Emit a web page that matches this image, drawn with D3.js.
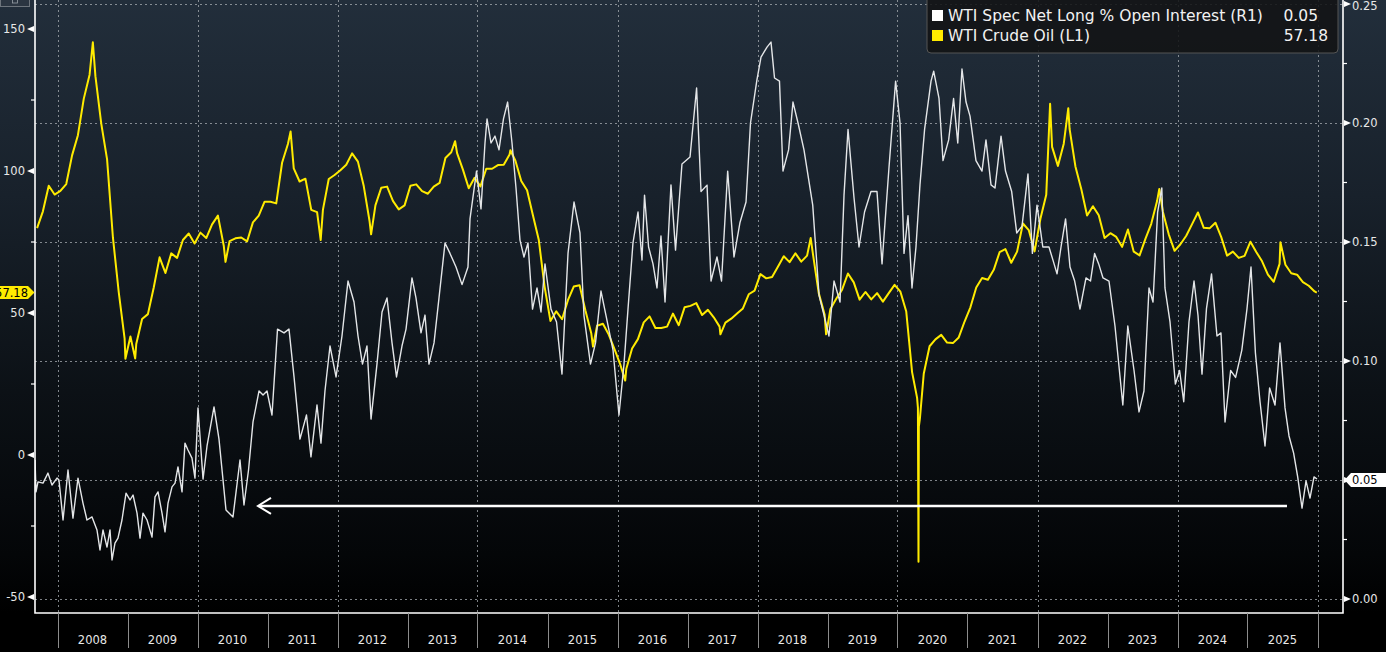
<!DOCTYPE html>
<html><head><meta charset="utf-8">
<script src="https://cdn.jsdelivr.net/npm/d3@7"></script>
<style>html,body{margin:0;padding:0;background:#000;overflow:hidden}svg{display:block}</style>
</head><body><svg id="c" width="1386" height="652"></svg>
<script>
// ---------- DATA ----------
const yearLabels = ["2008","2009","2010","2011","2012","2013","2014","2015","2016","2017","2018","2019","2020","2021","2022","2023","2024","2025"];
const leftTicks = [-50, 0, 50, 100, 150];
const leftMinorTicks = [-25, 25, 75, 125];
const rightTicks = [0, 0.05, 0.10, 0.15, 0.20, 0.25];
const rightMinorTicks = [0.025, 0.075, 0.125, 0.175, 0.225];
const legendNames = ["WTI Spec Net Long % Open Interest (R1)", "WTI Crude Oil (L1)"];
const legendValues = ["0.05", "57.18"];
const lastOil = 57.18;
const lastSpec = 0.05;

// WTI Spec Net Long % Open Interest (right axis), decimal-year dates
const specTimes = [2007.679,2007.693,2007.721,2007.793,2007.864,2007.921,2007.993,2008.021,2008.079,2008.15,2008.221,2008.293,2008.364,2008.421,2008.493,2008.564,2008.607,2008.65,2008.707,2008.75,2008.779,2008.821,2008.864,2008.921,2008.979,2009.036,2009.079,2009.136,2009.179,2009.221,2009.279,2009.35,2009.393,2009.436,2009.493,2009.536,2009.579,2009.636,2009.679,2009.721,2009.779,2009.821,2009.864,2009.921,2009.964,2010.007,2010.079,2010.136,2010.236,2010.307,2010.407,2010.507,2010.607,2010.664,2010.729,2010.793,2010.879,2010.936,2010.993,2011.064,2011.143,2011.236,2011.307,2011.379,2011.464,2011.557,2011.621,2011.707,2011.764,2011.821,2011.893,2011.979,2012.064,2012.15,2012.236,2012.293,2012.357,2012.421,2012.479,2012.564,2012.636,2012.707,2012.779,2012.843,2012.921,2012.979,2013.064,2013.121,2013.193,2013.25,2013.307,2013.379,2013.45,2013.536,2013.607,2013.693,2013.779,2013.864,2013.893,2013.986,2014.05,2014.107,2014.136,2014.193,2014.25,2014.307,2014.371,2014.43,2014.493,2014.55,2014.607,2014.664,2014.721,2014.786,2014.85,2014.907,2014.964,2015.05,2015.129,2015.207,2015.293,2015.379,2015.464,2015.521,2015.614,2015.686,2015.764,2015.836,2015.936,2016.021,2016.093,2016.15,2016.221,2016.293,2016.35,2016.386,2016.444,2016.507,2016.564,2016.621,2016.679,2016.764,2016.829,2016.921,2017.036,2017.13,2017.193,2017.279,2017.336,2017.421,2017.486,2017.574,2017.664,2017.75,2017.836,2017.9,2017.989,2018.05,2018.136,2018.193,2018.243,2018.314,2018.364,2018.444,2018.507,2018.579,2018.664,2018.789,2018.879,2018.964,2019.021,2019.093,2019.179,2019.236,2019.293,2019.379,2019.45,2019.529,2019.621,2019.707,2019.779,2019.879,2019.973,2020.036,2020.093,2020.15,2020.207,2020.264,2020.321,2020.387,2020.479,2020.517,2020.593,2020.65,2020.731,2020.801,2020.861,2020.921,2020.979,2021.036,2021.121,2021.207,2021.264,2021.336,2021.393,2021.479,2021.543,2021.631,2021.703,2021.779,2021.864,2021.927,2021.993,2022.076,2022.164,2022.221,2022.279,2022.336,2022.401,2022.464,2022.531,2022.607,2022.693,2022.757,2022.816,2022.874,2022.936,2023.021,2023.107,2023.219,2023.29,2023.379,2023.45,2023.521,2023.593,2023.65,2023.716,2023.776,2023.821,2023.893,2023.97,2024.03,2024.089,2024.164,2024.236,2024.293,2024.35,2024.414,2024.486,2024.564,2024.621,2024.679,2024.759,2024.83,2024.919,2024.993,2025.05,2025.113,2025.179,2025.25,2025.316,2025.393,2025.464,2025.536,2025.593,2025.659,2025.717,2025.779,2025.836,2025.893,2025.95,2025.993];
const specValues = [0.0584,0.045,0.0492,0.0487,0.0529,0.0479,0.0508,0.05,0.0332,0.0542,0.034,0.0508,0.0403,0.0332,0.0345,0.029,0.0206,0.029,0.0218,0.029,0.0164,0.0235,0.0256,0.0332,0.0445,0.0416,0.0437,0.0361,0.0256,0.0361,0.0332,0.026,0.0429,0.045,0.0361,0.0282,0.0403,0.0471,0.0487,0.0555,0.045,0.0655,0.0626,0.0592,0.0508,0.0803,0.0504,0.0643,0.0807,0.0672,0.0374,0.0345,0.0584,0.0395,0.0542,0.0744,0.0874,0.0857,0.0874,0.0773,0.1134,0.1118,0.1134,0.0933,0.0672,0.0773,0.0597,0.0815,0.0655,0.0874,0.1063,0.0933,0.1105,0.1336,0.1248,0.1105,0.0987,0.1063,0.0756,0.0987,0.1206,0.1265,0.1076,0.0933,0.1063,0.1134,0.1349,0.1265,0.1118,0.1193,0.0987,0.1076,0.1265,0.1496,0.1452,0.1395,0.1321,0.1395,0.1597,0.1798,0.1639,0.1916,0.2017,0.1916,0.1945,0.1887,0.2017,0.2088,0.1916,0.1727,0.1508,0.1437,0.1496,0.1218,0.1307,0.1206,0.1408,0.1218,0.1164,0.0945,0.1452,0.1668,0.1538,0.1191,0.0987,0.1076,0.1294,0.1191,0.1046,0.0773,0.0987,0.1218,0.1496,0.1626,0.1424,0.1697,0.1479,0.1408,0.1307,0.1525,0.1248,0.174,0.1466,0.1828,0.1857,0.2147,0.1712,0.1739,0.1336,0.1437,0.1336,0.1798,0.1437,0.1582,0.1668,0.2,0.2176,0.2277,0.2319,0.234,0.2189,0.2176,0.1798,0.1887,0.2088,0.2,0.1887,0.1655,0.1277,0.1176,0.1105,0.1336,0.1248,0.1697,0.1973,0.1685,0.1479,0.1626,0.1712,0.1712,0.1408,0.1815,0.2176,0.2,0.1452,0.1611,0.1307,0.1479,0.174,0.1973,0.2176,0.2218,0.2103,0.1842,0.1929,0.2103,0.1916,0.2227,0.2088,0.2029,0.1842,0.1798,0.1929,0.174,0.1727,0.1945,0.1798,0.1712,0.1538,0.1567,0.1786,0.1452,0.1655,0.1479,0.1479,0.1424,0.1366,0.1479,0.1597,0.1395,0.1336,0.1218,0.1349,0.1336,0.1452,0.1408,0.1349,0.1336,0.1147,0.0815,0.1147,0.096,0.0786,0.0874,0.1307,0.1248,0.1626,0.1727,0.1307,0.1164,0.0903,0.096,0.0829,0.1164,0.1336,0.1191,0.0945,0.122,0.1366,0.1105,0.1118,0.0744,0.096,0.0931,0.1046,0.122,0.1395,0.1034,0.0829,0.0643,0.0887,0.0815,0.1076,0.0803,0.0685,0.0613,0.0513,0.0382,0.0496,0.0424,0.0513,0.0504];

// WTI Crude Oil (left axis): monthly levels from Sep 2007, plus intra-month extremes
const oilFirstMonth = [2007, 9];
const oilMonthly = [
  79.9, 85.8, 94.8, 91.7,
  93.0, 95.4, 105.5, 112.6, 125.4, 133.9, 133.4, 116.7, 104.1, 76.6, 57.3, 41.1,
  41.7, 39.1, 47.9, 49.6, 59.0, 69.6, 64.1, 71.0, 69.4, 75.7, 78.0, 74.5,
  78.3, 76.4, 81.2, 84.3, 73.7, 75.3, 76.3, 76.6, 75.2, 81.9, 84.3, 89.2,
  89.2, 88.6, 102.9, 109.5, 100.9, 96.3, 97.3, 86.3, 85.5, 86.3, 97.2, 98.6,
  100.3, 102.2, 106.2, 103.3, 94.7, 82.3, 87.9, 94.1, 94.5, 89.5, 86.5, 87.9,
  94.8, 95.3, 92.9, 92.0, 94.5, 95.8, 104.6, 106.6, 106.3, 100.5, 93.9, 97.6,
  94.6, 100.8, 100.8, 102.1, 102.2, 105.8, 103.6, 96.5, 93.2, 84.4, 75.8, 59.3,
  47.2, 50.6, 47.8, 54.5, 59.3, 59.8, 50.9, 42.9, 45.5, 46.2, 42.4, 37.2,
  31.7, 30.3, 37.5, 40.8, 46.7, 48.8, 44.7, 44.7, 45.2, 49.8, 45.7, 52.0,
  52.5, 53.5, 49.3, 51.1, 48.5, 45.2, 46.6, 48.0, 49.8, 51.6, 56.6, 57.9,
  63.7, 62.2, 62.7, 66.3, 70.0, 67.9, 71.0, 68.1, 70.2, 70.8, 57.0, 49.5,
  51.4, 55.0, 58.2, 63.9, 60.8, 54.7, 57.4, 54.8, 57.0, 54.0, 57.0, 59.9,
  57.5, 50.5, 29.2, 16.6, 28.6, 38.3, 40.7, 42.3, 39.6, 39.4, 41.4, 47.0,
  52.0, 59.0, 62.3, 61.7, 65.2, 71.4, 72.5, 67.7, 71.6, 81.5, 79.2, 71.7,
  83.2, 91.6, 108.5, 101.8, 109.6, 114.8, 101.6, 93.7, 84.3, 87.6, 84.4, 76.4,
  78.1, 76.8, 73.3, 79.4, 71.6, 70.3, 76.1, 81.4, 89.4, 85.6, 77.7, 71.9,
  74.2, 77.2, 81.3, 85.4, 80.0, 79.8, 81.8, 76.7, 70.2, 71.6, 69.4, 70.1,
  75.1, 71.5, 68.2, 63.5, 61.0, 67.3, 67.0, 64.0, 63.5, 60.9, 59.6, 57.6
];
const oilExtremeTimes  = [2008.505, 2008.97, 2009.11, 2010.40, 2011.33, 2011.76, 2012.48, 2013.68, 2014.47, 2015.65, 2016.11, 2017.47, 2018.76, 2018.98, 2020.28, 2020.30, 2020.305, 2020.32, 2022.18, 2022.44, 2023.74, 2025.47, 2025.99];
const oilExtremeValues = [145.3, 33.9, 34.0, 68.0, 113.9, 75.7, 77.7, 110.5, 107.3, 38.2, 26.2, 42.5, 76.4, 42.5, 20.1, -37.6, 10.0, 12.8, 123.7, 122.1, 93.7, 74.9, 57.18];

// annotation arrow (time, right-axis value)
const arrowFrom = [2025.564, 0.0391];
const arrowTo = [2010.864, 0.0391];

// ---------- BUILD ----------
const W = 1386, H = 652;
const plotL = 35, plotR = 1343, plotB = 613, plotT = 0;
const FONT = "DejaVu Sans, Verdana, sans-serif";

const x = d3.scaleLinear().domain([2008, 2026]).range([57.5, 1317.5]);
const yL = d3.scaleLinear().domain([-50, 150]).range([597, 29]);
const yR = d3.scaleLinear().domain([0, 0.25]).range([599, 4]);

const spec = d3.range(Math.min(specTimes.length, specValues.length)).map(i => ({t: specTimes[i], v: specValues[i]}));
const oil = oilMonthly.map((v, i) => {
  const m = oilFirstMonth[1] - 1 + i;
  return {t: oilFirstMonth[0] + Math.floor(m / 12) + ((m % 12) + 0.5) / 12, v};
}).concat(oilExtremeTimes.map((t, i) => ({t, v: oilExtremeValues[i]})))
  .sort((a, b) => a.t - b.t);

const svg = d3.select("#c");
const defs = svg.append("defs");
const grad = defs.append("linearGradient").attr("id", "bg").attr("x1", 0).attr("y1", 0).attr("x2", 0).attr("y2", 1);
[[0, "#222e3b"], [0.3, "#18212b"], [0.6, "#0c1116"], [0.85, "#040608"], [0.94, "#000"], [1, "#000"]]
  .forEach(([o, c]) => grad.append("stop").attr("offset", o).attr("stop-color", c));
defs.append("clipPath").attr("id", "clip").append("rect")
  .attr("x", plotL).attr("y", plotT).attr("width", plotR - plotL).attr("height", plotB - plotT);

svg.append("rect").attr("width", W).attr("height", H).attr("fill", "url(#bg)");

// gridlines
const grid = svg.append("g").attr("stroke", "#a8adb3").attr("stroke-opacity", 0.75)
  .attr("stroke-dasharray", "2,3").attr("stroke-width", 1);
grid.selectAll("line.h").data(rightTicks).join("line").attr("class", "h")
  .attr("x1", plotL).attr("x2", plotR)
  .attr("y1", d => Math.round(yR(d)) + 0.5).attr("y2", d => Math.round(yR(d)) + 0.5);
const evenYears = d3.range(2008, 2027, 2);
grid.selectAll("line.v").data(evenYears).join("line").attr("class", "v")
  .attr("x1", d => Math.round(x(d)) + 0.5).attr("x2", d => Math.round(x(d)) + 0.5)
  .attr("y1", plotT).attr("y2", plotB);

// lines
const gLines = svg.append("g").attr("clip-path", "url(#clip)");
gLines.append("path").datum(oil)
  .attr("d", d3.line().x(d => x(d.t)).y(d => yL(d.v)))
  .attr("fill", "none").attr("stroke", "#ffeb00").attr("stroke-width", 2).attr("stroke-linejoin", "round");
gLines.append("path").datum(spec)
  .attr("d", d3.line().x(d => x(d.t)).y(d => yR(d.v)))
  .attr("fill", "none").attr("stroke", "#e4e6e8").attr("stroke-width", 1.4).attr("stroke-linejoin", "round");

// arrow annotation
const ax1 = x(arrowFrom[0]), ay = yR(arrowFrom[1]), ax2 = x(arrowTo[0]);
svg.append("line").attr("x1", ax1).attr("x2", ax2 + 1).attr("y1", ay).attr("y2", ay)
  .attr("stroke", "#fff").attr("stroke-width", 2.6);
svg.append("path").attr("d", `M${ax2 + 13},${ay - 8} L${ax2},${ay} L${ax2 + 13},${ay + 8}`)
  .attr("fill", "none").attr("stroke", "#fff").attr("stroke-width", 2);

// axis frame
const frame = svg.append("g").attr("stroke", "#fff").attr("stroke-width", 1.6).attr("fill", "none");
frame.append("path").attr("d", `M${plotL},0 V${plotB} H${plotR} V0`);

// left axis
const gL = svg.append("g");
gL.selectAll("path.tri").data(leftTicks).join("path")
  .attr("d", d => `M${plotL - 1},${yL(d) - 3} L${plotL - 8},${yL(d)} L${plotL - 1},${yL(d) + 3}Z`).attr("fill", "#fff");
gL.selectAll("line.minor").data(leftMinorTicks).join("line")
  .attr("x1", plotL - 4).attr("x2", plotL).attr("y1", d => yL(d)).attr("y2", d => yL(d))
  .attr("stroke", "#fff").attr("stroke-width", 1.2);
gL.selectAll("text").data(leftTicks).join("text")
  .attr("x", 25).attr("y", d => yL(d)).attr("dy", "0.36em").attr("text-anchor", "end")
  .attr("fill", "#e8e8e8").attr("font-family", FONT).attr("font-size", 11.5).text(d => d);

// right axis
const gR = svg.append("g");
gR.selectAll("path.tri").data(rightTicks).join("path")
  .attr("d", d => `M${plotR + 1},${yR(d) - 3} L${plotR + 8},${yR(d)} L${plotR + 1},${yR(d) + 3}Z`).attr("fill", "#fff");
gR.selectAll("line.minor").data(rightMinorTicks).join("line")
  .attr("x1", plotR).attr("x2", plotR + 4).attr("y1", d => yR(d)).attr("y2", d => yR(d))
  .attr("stroke", "#fff").attr("stroke-width", 1.2);
gR.selectAll("text").data(rightTicks).join("text")
  .attr("x", 1352).attr("y", d => Math.max(yR(d), 6)).attr("dy", "0.36em")
  .attr("fill", "#e8e8e8").attr("font-family", FONT).attr("font-size", 11.5).text(d => d3.format(".2f")(d));

// bottom axis: year separators and centred labels
const gB = svg.append("g");
gB.selectAll("line").data(d3.range(2008, 2027)).join("line")
  .attr("x1", d => Math.round(x(d)) + 0.5).attr("x2", d => Math.round(x(d)) + 0.5)
  .attr("y1", plotB).attr("y2", 648).attr("stroke", "#8c8c8c").attr("stroke-width", 1);
gB.selectAll("text").data(yearLabels).join("text")
  .attr("x", d => x(+d + 0.5)).attr("y", 644).attr("text-anchor", "middle")
  .attr("fill", "#e8e8e8").attr("font-family", FONT).attr("font-size", 11.5).text(d => d);

// last-value tags
const ty = yL(lastOil);
svg.append("path").attr("d", `M-2,${ty - 6.5} H28 L34.5,${ty} L28,${ty + 6.5} H-2Z`).attr("fill", "#ffeb00");
svg.append("text").attr("x", 28).attr("y", ty).attr("dy", "0.36em").attr("text-anchor", "end")
  .attr("fill", "#000").attr("font-family", FONT).attr("font-size", 11.5).text(lastOil.toFixed(2));
const sy = yR(lastSpec);
svg.append("path").attr("d", `M${plotR + 1.5},${sy} L${plotR + 8},${sy - 7} H1390 V${sy + 7} H${plotR + 8}Z`).attr("fill", "#fff");
svg.append("text").attr("x", 1352).attr("y", sy).attr("dy", "0.36em")
  .attr("fill", "#000").attr("font-family", FONT).attr("font-size", 11.5).text(lastSpec.toFixed(2));

// legend
const lg = svg.append("g");
lg.append("rect").attr("x", 927).attr("y", -4).attr("width", 411).attr("height", 57).attr("rx", 4)
  .attr("fill", "rgba(18,19,21,0.88)").attr("stroke", "#555").attr("stroke-width", 1);
const legColors = ["#ffffff", "#ffeb00"];
const legRowY = [15.5, 35.5];
const legValX = [1318, 1328];
legendNames.forEach((n, i) => {
  lg.append("rect").attr("x", 932).attr("y", legRowY[i] - 5.5).attr("width", 11).attr("height", 11).attr("fill", legColors[i]);
  lg.append("text").attr("x", 948).attr("y", legRowY[i]).attr("dy", "0.36em")
    .attr("fill", "#f2f2f2").attr("font-family", FONT).attr("font-size", 15.5).text(n);
  lg.append("text").attr("x", legValX[i]).attr("y", legRowY[i]).attr("dy", "0.36em").attr("text-anchor", "end")
    .attr("fill", "#f2f2f2").attr("font-family", FONT).attr("font-size", 15.5).text(legendValues[i]);
});

// small top-left widget
svg.append("rect").attr("x", 0.5).attr("y", -4).attr("width", 29).attr("height", 10.5)
  .attr("fill", "#2b3541").attr("stroke", "#6d747c");
svg.append("rect").attr("x", 12.5).attr("y", -1).attr("width", 5).attr("height", 4)
  .attr("fill", "none").attr("stroke", "#9aa1a8").attr("stroke-width", 0.8);
</script>
</body></html>
